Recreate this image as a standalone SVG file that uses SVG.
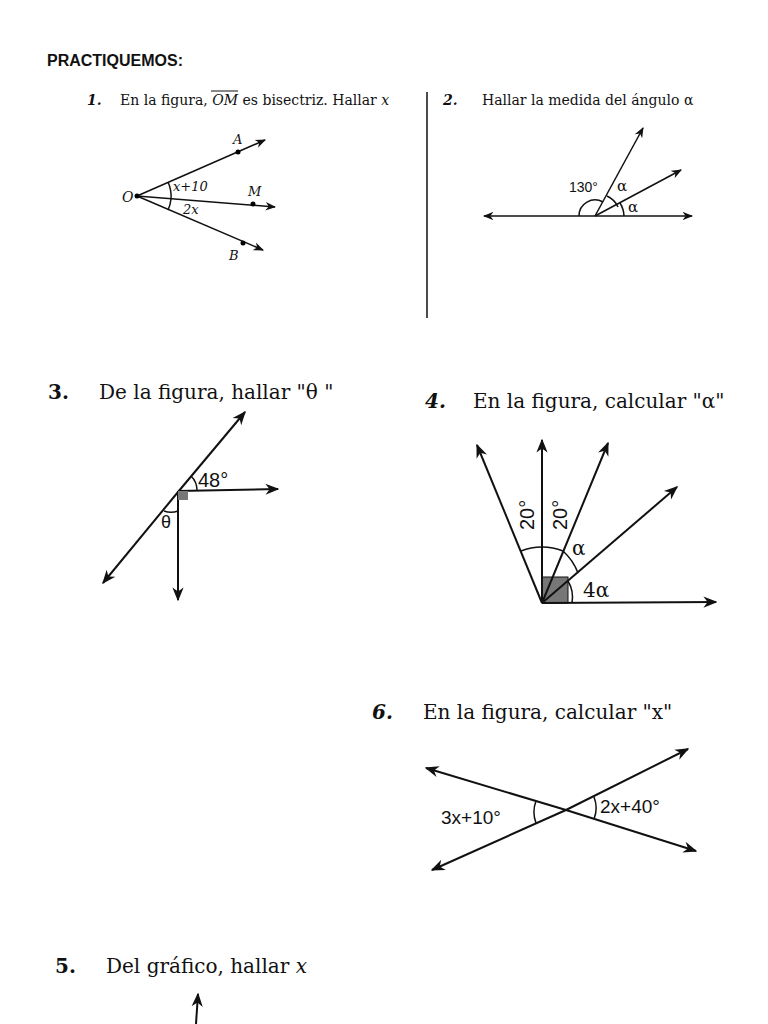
<svg xmlns="http://www.w3.org/2000/svg" width="768" height="1024" viewBox="0 0 768 1024">
<style>
text{font-family:"DejaVu Serif","Liberation Serif",serif;fill:#111}
.ln{stroke:#111;stroke-width:2;fill:none}
.th{stroke:#111;stroke-width:1.5;fill:none}
.s{font-family:"Liberation Sans",sans-serif}
</style>
<defs>
<marker id="ar" viewBox="0 0 10 10" refX="9" refY="5" markerWidth="7" markerHeight="7" orient="auto-start-reverse"><path d="M0,1 L10,5 L0,9 L3,5z" fill="#111"/></marker>
</defs>
<rect width="768" height="1024" fill="#fff"/>
<text x="47" y="66" class="s" font-weight="bold" font-size="16">PRACTIQUEMOS:</text>

<g id="p1">
<text x="87" y="105" font-size="14"><tspan font-weight="bold" font-style="italic">1.</tspan><tspan x="120">En la figura,</tspan><tspan font-style="italic"> OM</tspan><tspan> es bisectriz. Hallar </tspan><tspan font-style="italic">x</tspan></text>
<line x1="211" y1="91" x2="238" y2="91" stroke="#111" stroke-width="1"/>
<g class="th"><line x1="137" y1="196" x2="265" y2="140" marker-end="url(#ar)"/><line x1="137" y1="196" x2="275" y2="207" marker-end="url(#ar)"/><line x1="137" y1="196" x2="263" y2="250" marker-end="url(#ar)"/>
<path d="M168,182 A34,34 0 0 1 171,199"/><path d="M171,199 A34,34 0 0 1 168,210"/></g>
<circle cx="238" cy="152" r="2.5"/><circle cx="253" cy="204" r="2.5"/><circle cx="243" cy="243" r="2.5"/><circle cx="137" cy="196" r="2.5"/>
<text x="122" y="202" font-size="14" font-style="italic">O</text>
<text x="233" y="144" font-size="13" font-style="italic">A</text>
<text x="248" y="196" font-size="13" font-style="italic">M</text>
<text x="229" y="260" font-size="13" font-style="italic">B</text>
<text x="173" y="191" font-size="13" font-style="italic">x+10</text>
<text x="183" y="214" font-size="13" font-style="italic">2x</text>
</g>
<line x1="427" y1="92" x2="427" y2="318" stroke="#111" stroke-width="1.5"/>

<g id="p2">
<text x="443" y="105" font-size="14"><tspan font-weight="bold" font-style="italic">2.</tspan><tspan x="482">Hallar la medida del ángulo α</tspan></text>
<g class="th"><line x1="595" y1="216" x2="484" y2="216" marker-end="url(#ar)"/><line x1="595" y1="216" x2="692" y2="216" marker-end="url(#ar)"/>
<line x1="595" y1="216" x2="643" y2="128" marker-end="url(#ar)"/><line x1="595" y1="216" x2="681" y2="170" marker-end="url(#ar)"/>
<path d="M579,216 A16,16 0 0 1 603,202"/><path d="M607,196 A22,22 0 0 1 618,207"/><path d="M620,203 A26,26 0 0 1 624,216"/></g>
<text x="569" y="192" font-size="14" class="s" fill="#444">130°</text>
<text x="617" y="191" font-size="15">α</text>
<text x="628" y="212" font-size="15">α</text>
</g>

<g id="p3">
<text x="48" y="399" font-size="20"><tspan font-weight="bold">3.</tspan><tspan x="99">De la figura, hallar "θ "</tspan></text>
<g class="ln"><line x1="178" y1="492" x2="103" y2="583" marker-end="url(#ar)"/><line x1="178" y1="492" x2="245" y2="412" marker-end="url(#ar)"/>
<line x1="178" y1="491" x2="278" y2="489" marker-end="url(#ar)"/><line x1="178" y1="491" x2="178" y2="600" marker-end="url(#ar)"/>
<path class="th" d="M191,476 A20,20 0 0 1 197,490"/><path class="th" d="M164,511 A20,20 0 0 0 178,511"/></g>
<rect x="178" y="491" width="10" height="9" fill="#777"/>
<text x="198" y="487" font-size="20" class="s">48°</text>
<text x="161" y="528" font-size="18" class="s">θ</text>
</g>

<g id="p4">
<text x="425" y="408" font-size="20"><tspan font-weight="bold" font-style="italic">4.</tspan><tspan x="473">En la figura, calcular "α"</tspan></text>
<rect x="542" y="577" width="26" height="26" fill="#777" stroke="#111" stroke-width="1"/>
<g class="ln"><line x1="542" y1="603" x2="716" y2="602" marker-end="url(#ar)"/><line x1="542" y1="603" x2="542" y2="440" marker-end="url(#ar)"/>
<line x1="542" y1="603" x2="477" y2="445" marker-end="url(#ar)"/><line x1="542" y1="603" x2="608" y2="443" marker-end="url(#ar)"/><line x1="542" y1="603" x2="677" y2="487" marker-end="url(#ar)"/>
<path class="th" d="M521,551 A56,56 0 0 1 542,547"/><path class="th" d="M542,547 A56,56 0 0 1 563,551"/><path class="th" d="M563,551 A56,56 0 0 1 578,573"/><path class="th" d="M568,581 A32,32 0 0 1 572,603"/></g>
<text transform="translate(534,530) rotate(-90)" font-size="20" class="s">20°</text>
<text transform="translate(567,530) rotate(-90)" font-size="20" class="s">20°</text>
<text x="572" y="555" font-size="20">α</text>
<text x="583" y="597" font-size="20">4α</text>
</g>

<g id="p6">
<text x="372" y="719" font-size="20"><tspan font-weight="bold" font-style="italic">6.</tspan><tspan x="423">En la figura, calcular "x"</tspan></text>
<g class="ln"><line x1="566" y1="810" x2="426" y2="768" marker-end="url(#ar)"/><line x1="566" y1="810" x2="696" y2="851" marker-end="url(#ar)"/>
<line x1="566" y1="810" x2="432" y2="870" marker-end="url(#ar)"/><line x1="566" y1="810" x2="688" y2="749" marker-end="url(#ar)"/>
<path class="th" d="M536,801 A31,31 0 0 0 536,823"/><path class="th" d="M594,797 A30,30 0 0 1 594,819"/></g>
<text x="441" y="824" font-size="19" class="s" fill="#333">3x+10°</text>
<text x="600" y="813" font-size="19" class="s" fill="#333">2x+40°</text>
</g>

<g id="p5">
<text x="55" y="973" font-size="20"><tspan font-weight="bold">5.</tspan><tspan x="106">Del gráfico, hallar </tspan><tspan font-style="italic">x</tspan></text>
<line x1="196" y1="1024" x2="198" y2="994" class="ln" marker-end="url(#ar)"/>
</g>
</svg>
